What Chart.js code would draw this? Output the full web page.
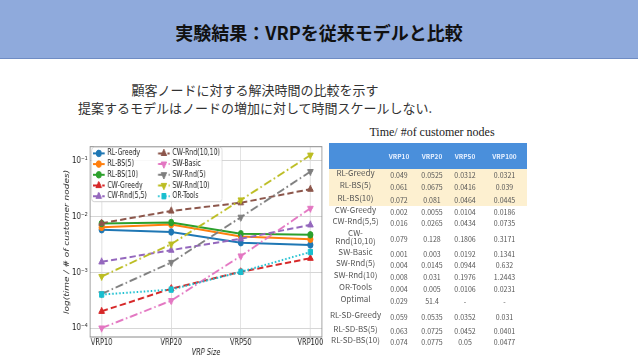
<!DOCTYPE html>
<html lang="ja">
<head>
<meta charset="utf-8">
<script src="https://cdn.jsdelivr.net/npm/chart.js@4.4.1/dist/chart.umd.min.js"></script>
<style>
  body { margin: 0; width: 638px; height: 359px; overflow: hidden; background: #fff; position: relative; font-family: "Noto Sans CJK JP", sans-serif; }
  .banner { position: absolute; left: 0; top: 0; width: 638px; height: 58px; background: #8faadc; border-bottom: 1px solid #6f8cc4; }
  .banner h1 { margin: 0; font-size: 18px; font-weight: bold; text-align: center; line-height: 58px; padding-top: 3px; color: #111; }
  .sub { position: absolute; left: 0; width: 510px; text-align: center; font-size: 13px; color: #333; line-height: 18px; top: 81px; }
  .ttl { position: absolute; left: 352px; width: 160px; top: 125px; text-align: center; font-family: "Liberation Serif", serif; font-size: 12px; color: #222; }
  #wrap { position: absolute; left: 50px; top: 138px; width: 359px; height: 221px; transform: scaleX(0.78); transform-origin: 0 0; }
  table { position: absolute; left: 329px; top: 143px; border-collapse: collapse; table-layout: fixed; }
  td { padding: 0; text-align: center; vertical-align: middle; font-size: 7px; color: #555; overflow: visible; }
  th { height: 26px; padding: 0; background: #4a8fdb; color: #e6f0ff; font-size: 6.5px; font-weight: bold; }
  td.lab { font-size: 8px; color: #555; line-height: 8px; white-space: pre-line; }
  td.lab span { position: relative; top: -2px; }
  tr.hl td { background: #fdf0d0; }
</style>
</head>
<body>
<div class="banner"><h1>実験結果：VRPを従来モデルと比較</h1></div>
<div class="sub">顧客ノードに対する解決時間の比較を示す<br>提案するモデルはノードの増加に対して時間スケールしない.</div>
<div class="ttl">Time/ #of customer nodes</div>
<div id="wrap"><canvas id="c" width="359" height="221"></canvas></div>
<table id="tbl"></table>
<script>
// chart data (log scale, time / # of customer nodes)
const sizes = ['VRP10', 'VRP20', 'VRP50', 'VRP100'];
const rlGreedy = [0.0058, 0.0053, 0.0034, 0.0031];
const rlBs5 = [0.0064, 0.0072, 0.0044, 0.0039];
const rlBs10 = [0.0075, 0.0078, 0.0049, 0.0047];
const cwGreedy = [0.0002, 0.00051, 0.00102, 0.00179];
const cwRnd55 = [0.00154, 0.0025, 0.004, 0.0071];
const cwRnd1010 = [0.0076, 0.0126, 0.0177, 0.031];
const swBasic = [0.0001, 0.00031, 0.00196, 0.014];
const swRnd5 = [0.00041, 0.0015, 0.0097, 0.064];
const swRnd10 = [0.00084, 0.0032, 0.0198, 0.126];
const orTools = [0.0004, 0.00049, 0.00102, 0.00231];
const yTicks = [1e-4, 1e-3, 1e-2, 1e-1];
const yTickLabels = ['10⁻⁴', '10⁻³', '10⁻²', '10⁻¹'];

// table data
const tableHead = ['', 'VRP10', 'VRP20', 'VRP50', 'VRP100'];
const tableLabels = ['RL-Greedy', 'RL-BS(5)', 'RL-BS(10)', 'CW-Greedy', 'CW-Rnd(5,5)', 'CW-\nRnd(10,10)', 'SW-Basic',
  'SW-Rnd(5)', 'SW-Rnd(10)', 'OR-Tools', 'Optimal', 'RL-SD-Greedy', 'RL-SD-BS(5)', 'RL-SD-BS(10)'];
const t10 = ['0.049', '0.061', '0.072', '0.002', '0.016', '0.079', '0.001', '0.004', '0.008', '0.004', '0.029', '0.059', '0.063', '0.074'];
const t20 = ['0.0525', '0.0675', '0.081', '0.0055', '0.0265', '0.128', '0.003', '0.0145', '0.031', '0.005', '51.4', '0.0535', '0.0725', '0.0775'];
const t50 = ['0.0312', '0.0416', '0.0464', '0.0104', '0.0434', '0.1806', '0.0192', '0.0944', '0.1976', '0.0106', '-', '0.0352', '0.0452', '0.05'];
const t100 = ['0.0321', '0.039', '0.0445', '0.0186', '0.0735', '0.3171', '0.1341', '0.632', '1.2443', '0.0231', '-', '0.031', '0.0401', '0.0477'];

// build the table
const colW = [53, 34, 32, 34, 45];
const rowH = [12, 12, 13, 11, 12, 19, 11, 12, 12, 12, 12, 19, 10, 12];
const tbl = document.getElementById('tbl');
let html = '<colgroup>' + colW.map(w => `<col style="width:${w}px">`).join('') + '</colgroup>';
html += '<tr>' + tableHead.map(h => `<th>${h}</th>`).join('') + '</tr>';
tableLabels.forEach((lab, i) => {
  const cls = i < 3 ? ' class="hl"' : '';
  html += `<tr${cls} style="height:${rowH[i]}px"><td class="lab"><span>${lab}</span></td>` +
    [t10[i], t20[i], t50[i], t100[i]].map(v => `<td>${v}</td>`).join('') + '</tr>';
});
tbl.innerHTML = html;

const series = [
  { label: 'RL-Greedy', data: rlGreedy, color: '#1f77b4', dash: [], pt: 'circle', rot: 0 },
  { label: 'RL-BS(5)', data: rlBs5, color: '#ff7f0e', dash: [], pt: 'circle', rot: 0 },
  { label: 'RL-BS(10)', data: rlBs10, color: '#2ca02c', dash: [], pt: 'circle', rot: 0 },
  { label: 'CW-Greedy', data: cwGreedy, color: '#d62728', dash: [8, 4], pt: 'triangle', rot: 0 },
  { label: 'CW-Rnd(5,5)', data: cwRnd55, color: '#9467bd', dash: [8, 4], pt: 'triangle', rot: 0 },
  { label: 'CW-Rnd(10,10)', data: cwRnd1010, color: '#8c564b', dash: [8, 4], pt: 'triangle', rot: 0 },
  { label: 'SW-Basic', data: swBasic, color: '#e377c2', dash: [10, 3.5, 2, 3.5], pt: 'triangle', rot: 180 },
  { label: 'SW-Rnd(5)', data: swRnd5, color: '#7f7f7f', dash: [10, 3.5, 2, 3.5], pt: 'triangle', rot: 180 },
  { label: 'SW-Rnd(10)', data: swRnd10, color: '#bcbd22', dash: [10, 3.5, 2, 3.5], pt: 'triangle', rot: 180 },
  { label: 'OR-Tools', data: orTools, color: '#17becf', dash: [2, 2.5], pt: 'rect', rot: 0 }
];

const font = 'DejaVu Sans';

// legend drawn inside the plot, two columns like matplotlib
const insideLegend = {
  id: 'insideLegend',
  afterDraw(chart) {
    const { ctx, chartArea: a } = chart;
    const H = Chart.helpers;
    ctx.save();
    ctx.setLineDash([]);
    ctx.strokeStyle = '#8a8a8a';
    ctx.lineWidth = 1;
    ctx.strokeRect(a.left, a.top, a.right - a.left, a.bottom - a.top);

    ctx.beginPath();
    ctx.roundRect(a.left + 2.2, a.top + 0.5, 167, 54.5, 3);
    ctx.fillStyle = 'rgba(255,255,255,0.85)';
    ctx.fill();
    ctx.strokeStyle = '#d0d0d0';
    ctx.stroke();

    chart.data.datasets.forEach((ds, i) => {
      const col = Math.floor(i / 5), row = i % 5;
      const hx = a.left + 3.7 + col * 83.5;
      const y = a.top + 6.7 + row * 10.7;
      ctx.strokeStyle = ds.borderColor;
      ctx.fillStyle = ds.borderColor;
      ctx.lineWidth = 2;
      ctx.setLineDash(ds.borderDash);
      ctx.beginPath();
      ctx.moveTo(hx, y);
      ctx.lineTo(hx + 15, y);
      ctx.stroke();
      ctx.setLineDash([]);
      ctx.lineWidth = 1;
      H.drawPoint(ctx, { pointStyle: ds.pointStyle, radius: ds.pointRadius, rotation: ds.pointRotation, borderWidth: 1 }, hx + 7.5, y);
      ctx.fillStyle = '#222';
      ctx.font = `8px "${font}"`;
      ctx.textBaseline = 'middle';
      ctx.fillText(ds.label, hx + 18.5, y);
    });
    ctx.restore();
  }
};

new Chart(document.getElementById('c'), {
  type: 'line',
  data: {
    datasets: series.map((s, i) => ({
      label: s.label,
      data: s.data.map((v, j) => ({ x: j, y: v })),
      borderColor: s.color,
      backgroundColor: s.color,
      borderWidth: 2,
      borderDash: s.dash,
      pointStyle: s.pt,
      pointRotation: s.rot,
      pointRadius: s.pt === 'circle' ? 3.3 : (s.pt === 'rect' ? 3.8 : 4.2),
      pointBorderWidth: 1,
      tension: 0,
      order: -i
    }))
  },
  options: {
    responsive: false,
    animation: false,
    layout: { padding: { top: 6, right: 10.3, left: 0, bottom: 0 } },
    plugins: { legend: { display: false }, tooltip: { enabled: false } },
    scales: {
      x: {
        type: 'linear',
        min: -0.167,
        max: 3.167,
        afterBuildTicks: s => { s.ticks = sizes.map((_, i) => ({ value: i })); },
        afterFit: s => { s.height = 22; },
        ticks: { callback: v => sizes[v], font: { family: font, size: 8.5 }, color: '#222', padding: 1, maxRotation: 0, autoSkip: false },
        grid: { color: '#d6d6d6', drawTicks: false },
        border: { display: false },
        title: { display: true, text: 'VRP Size', color: '#222', font: { family: font, size: 8.5, style: 'italic' }, padding: { top: 0, bottom: 1.5 } }
      },
      y: {
        type: 'logarithmic',
        min: Math.pow(10, -4.16),
        max: Math.pow(10, -0.747),
        afterBuildTicks: s => { s.ticks = yTicks.map(v => ({ value: v })); },
        afterFit: s => { s.width = 51.3; },
        ticks: { callback: (v, i) => yTickLabels[i], font: { family: font, size: 9 }, color: '#222', padding: 3.3 },
        grid: { color: '#d6d6d6', drawTicks: false },
        border: { display: false },
        title: { display: true, text: 'log(time / # of customer nodes)', color: '#222', font: { family: font, size: 9, style: 'italic' }, padding: { top: 16.4, bottom: 0 } }
      }
    }
  },
  plugins: [insideLegend]
});
</script>
</body>
</html>
